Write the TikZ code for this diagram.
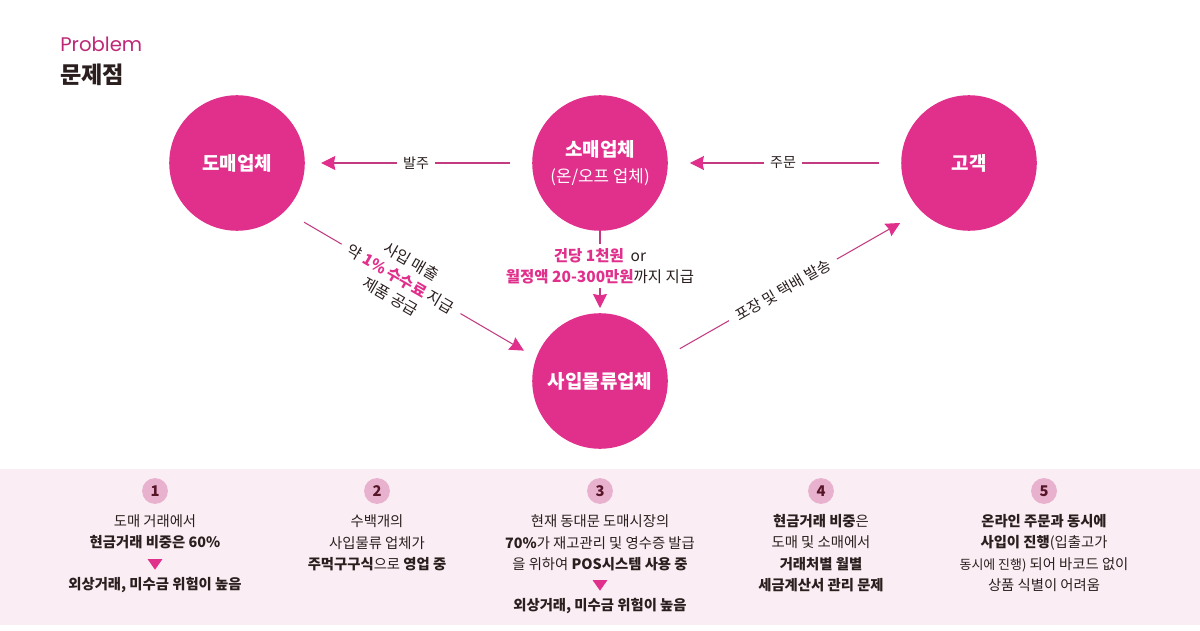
\documentclass[tikz,border=0pt]{standalone}
\usepackage{fontspec}
\usetikzlibrary{arrows.meta, shapes.geometric}
\setmainfont{Noto Sans CJK KR}
\newfontfamily\latinfont{Poppins}
\definecolor{hotpink}{HTML}{E0308C}
\definecolor{linepink}{HTML}{C23A80}
\definecolor{bandpink}{HTML}{FAEEF4}
\definecolor{badgepink}{HTML}{E8B2CF}
\definecolor{inkdark}{HTML}{2A1E1E}
\tikzset{>={Stealth[length=10pt, width=10pt, inset=1pt, color=hotpink]}}
\tikzset{
  party/.style={circle, fill=hotpink, minimum size=96.4pt, inner sep=0pt, text=white, align=center, font=\fontsize{13.5}{19}\selectfont\bfseries},
  flow/.style={->, draw=linepink, line width=0.75pt},
  flowtag/.style={fill=white, text=inkdark, align=center, inner sep=1.5pt, font=\fontsize{10}{15}\selectfont},
  badge/.style={circle, fill=badgepink, minimum size=18.4pt, inner sep=0pt, text=inkdark!70!purple, font=\fontsize{10.5}{12}\selectfont\bfseries},
  note/.style={text=inkdark, align=center, inner sep=0pt, font=\fontsize{10.2}{15.2}\selectfont},
  tridown/.style={isosceles triangle, isosceles triangle apex angle=70, shape border rotate=-90, fill=hotpink, minimum size=7.5pt, inner sep=0pt}
}
\newcommand{\hot}[1]{\textcolor{hotpink}{\bfseries #1}}
\begin{document}
\begin{tikzpicture}[x=0.025cm, y=-0.025cm]
\useasboundingbox (0,0) rectangle (1200,630);
\node[anchor=west, inner sep=0pt, text=hotpink!85!black, font=\fontsize{14}{16}\selectfont\latinfont] (subtitle) at (60,44) {Problem};
\node[anchor=west, inner sep=0pt, text=inkdark, font=\fontsize{16.5}{20}\selectfont\bfseries] (title) at (60,75) {문제점};
\node[party] (domae) at (237,163) {도매업체};
\node[party] (somae) at (600,163) {\raisebox{-1pt}{소매업체}\\[-1pt]\raisebox{-1.5pt}{\fontsize{12}{15}\selectfont\mdseries (온/오프 업체)}};
\node[party] (gogaek) at (969,163) {고객};
\node[party] (saip) at (600,381) {사입물류업체};
\draw[flow, shorten <=15.5pt, shorten >=11.5pt] (somae) -- (domae);
\draw[flow, shorten <=15.5pt, shorten >=15.5pt] (gogaek) -- (somae);
\draw[flow, shorten >=3.5pt] (somae) -- (saip);
\draw[flow, shorten <=15.6pt, shorten >=10pt] (domae.-45) -- (saip.160);
\draw[flow, shorten <=13pt, shorten >=17pt] (saip.20) -- (gogaek.225);
\node[flowtag, inner xsep=4pt] (order1) at (416,163) {발주};
\node[flowtag, inner xsep=4pt] (order2) at (783,163) {주문};
\node[flowtag, inner xsep=1pt, inner ysep=3pt, font=\fontsize{11}{15}\selectfont] (fee) at (600,266) {\hot{건당 1천원}\ \ or\\\hot{월정액 20-300만원}까지 지급};
\node[flowtag, rotate=-30, inner xsep=6pt, inner ysep=1pt, font=\fontsize{11}{14.7}\selectfont] (supply) at (401,279) {사입 매출\\약 \hot{1\% 수수료} 지급\\제품 공급};
\node[flowtag, rotate=30, inner xsep=6pt, font=\fontsize{10.7}{15}\selectfont] (ship) at (783,290) {포장 및 택배 발송};
\fill[bandpink] (0,469) rectangle (1200,625);
\node[badge] (num1) at (155,491) {1};
\node[badge] (num2) at (377,491) {2};
\node[badge] (num3) at (600,491) {3};
\node[badge] (num4) at (821,491) {4};
\node[badge] (num5) at (1044,491) {5};
\node[note] (note1) at (155,532) {도매 거래에서\\\textbf{현금거래 비중은 60\%}};
\node[tridown] (tri1) at (155,563) {};
\node[note] (note1b) at (155,585) {\textbf{외상거래, 미수금 위험이 높음}};
\node[note] (note2) at (377,543) {수백개의\\사입물류 업체가\\\textbf{주먹구구식}으로 \textbf{영업 중}};
\node[note] (note3) at (600,543) {현재 동대문 도매시장의\\\textbf{70\%}가 재고관리 및 영수증 발급\\을 위하여 \textbf{POS시스템 사용 중}};
\node[tridown] (tri3) at (600,584) {};
\node[note] (note3b) at (600,606) {\textbf{외상거래, 미수금 위험이 높음}};
\node[note] (note4) at (821,553) {\textbf{현금거래 비중}은\\도매 및 소매에서\\\textbf{거래처별 월별}\\\textbf{세금계산서 관리 문제}};
\node[note] (note5) at (1044,553) {\textbf{온라인 주문과 동시에}\\\textbf{사입이 진행}(입출고가\\{\fontsize{9.2}{15.2}\selectfont 동시에 진행)} 되어 바코드 없이\\상품 식별이 어려움};
\end{tikzpicture}
\end{document}
